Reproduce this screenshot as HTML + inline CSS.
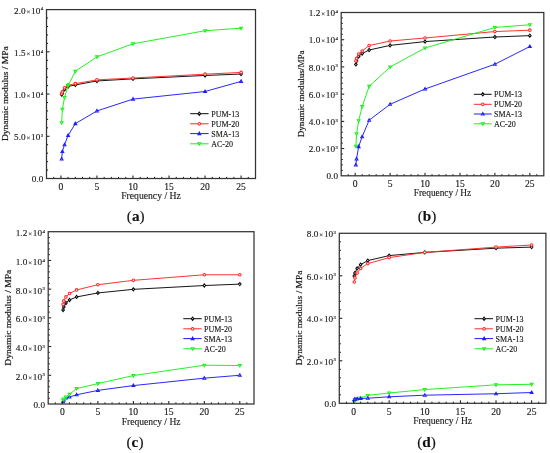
<!DOCTYPE html>
<html><head><meta charset="utf-8"><style>
html,body{margin:0;padding:0;background:#fff;}
svg{display:block;}
text{font-family:"Liberation Serif","Times New Roman",serif;fill:#1a1a1a;stroke:#1a1a1a;stroke-width:0.14px;}
.t{font-size:9.6px;}
.s{font-size:5.0px;}
.x{font-size:6.8px;fill:#444;stroke:#444;}
.yl{font-size:9.2px;}
.ti{font-size:9.7px;}
.lg{font-size:8.0px;}
.pl{font-size:14.5px;fill:#111;}
</style></head><body>
<svg width="550" height="453" viewBox="0 0 550 453">
<rect width="550" height="453" fill="#fff"/>
<polyline points="61.63,94.47 62.36,93.21 64.52,89.41 68.12,86.45 75.33,84.93 96.95,80.96 132.98,78.85 205.05,75.47 241.09,74.04" fill="none" stroke="#0a0a0a" stroke-width="0.95"/>
<path d="M61.63 92.87L62.93 94.47L61.63 96.07L60.33 94.47Z" fill="#fff" stroke="#0a0a0a" stroke-width="1.05"/>
<path d="M62.36 91.61L63.66 93.21L62.36 94.81L61.06 93.21Z" fill="#fff" stroke="#0a0a0a" stroke-width="1.05"/>
<path d="M64.52 87.81L65.82 89.41L64.52 91.01L63.22 89.41Z" fill="#fff" stroke="#0a0a0a" stroke-width="1.05"/>
<path d="M68.12 84.85L69.42 86.45L68.12 88.05L66.82 86.45Z" fill="#fff" stroke="#0a0a0a" stroke-width="1.05"/>
<path d="M75.33 83.33L76.63 84.93L75.33 86.53L74.03 84.93Z" fill="#fff" stroke="#0a0a0a" stroke-width="1.05"/>
<path d="M96.95 79.36L98.25 80.96L96.95 82.56L95.65 80.96Z" fill="#fff" stroke="#0a0a0a" stroke-width="1.05"/>
<path d="M132.98 77.25L134.28 78.85L132.98 80.45L131.68 78.85Z" fill="#fff" stroke="#0a0a0a" stroke-width="1.05"/>
<path d="M205.05 73.87L206.35 75.47L205.05 77.07L203.75 75.47Z" fill="#fff" stroke="#0a0a0a" stroke-width="1.05"/>
<path d="M241.09 72.44L242.39 74.04L241.09 75.64L239.79 74.04Z" fill="#fff" stroke="#0a0a0a" stroke-width="1.05"/>
<polyline points="61.63,93.63 62.36,91.94 64.52,87.72 68.12,85.18 75.33,83.66 96.95,79.86 132.98,78 205.05,74.2 241.09,72.43" fill="none" stroke="#ff2828" stroke-width="0.95"/>
<circle cx="61.63" cy="93.63" r="1.3" fill="#fff" stroke="#ff2828" stroke-width="1.05"/>
<circle cx="62.36" cy="91.94" r="1.3" fill="#fff" stroke="#ff2828" stroke-width="1.05"/>
<circle cx="64.52" cy="87.72" r="1.3" fill="#fff" stroke="#ff2828" stroke-width="1.05"/>
<circle cx="68.12" cy="85.18" r="1.3" fill="#fff" stroke="#ff2828" stroke-width="1.05"/>
<circle cx="75.33" cy="83.66" r="1.3" fill="#fff" stroke="#ff2828" stroke-width="1.05"/>
<circle cx="96.95" cy="79.86" r="1.3" fill="#fff" stroke="#ff2828" stroke-width="1.05"/>
<circle cx="132.98" cy="78" r="1.3" fill="#fff" stroke="#ff2828" stroke-width="1.05"/>
<circle cx="205.05" cy="74.2" r="1.3" fill="#fff" stroke="#ff2828" stroke-width="1.05"/>
<circle cx="241.09" cy="72.43" r="1.3" fill="#fff" stroke="#ff2828" stroke-width="1.05"/>
<polyline points="61.63,159.08 62.36,151.48 64.52,144.72 68.12,135.43 75.33,123.61 96.95,110.94 132.98,99.12 205.05,91.52 241.09,81.38" fill="none" stroke="#1c1cff" stroke-width="0.95"/>
<path d="M61.63 157.58L63.03 160.08L60.23 160.08Z" fill="#fff" stroke="#1c1cff" stroke-width="1.05"/>
<path d="M62.36 149.98L63.76 152.48L60.96 152.48Z" fill="#fff" stroke="#1c1cff" stroke-width="1.05"/>
<path d="M64.52 143.22L65.92 145.72L63.12 145.72Z" fill="#fff" stroke="#1c1cff" stroke-width="1.05"/>
<path d="M68.12 133.93L69.52 136.43L66.72 136.43Z" fill="#fff" stroke="#1c1cff" stroke-width="1.05"/>
<path d="M75.33 122.11L76.73 124.61L73.93 124.61Z" fill="#fff" stroke="#1c1cff" stroke-width="1.05"/>
<path d="M96.95 109.44L98.35 111.94L95.55 111.94Z" fill="#fff" stroke="#1c1cff" stroke-width="1.05"/>
<path d="M132.98 97.62L134.38 100.12L131.58 100.12Z" fill="#fff" stroke="#1c1cff" stroke-width="1.05"/>
<path d="M205.05 90.02L206.45 92.52L203.65 92.52Z" fill="#fff" stroke="#1c1cff" stroke-width="1.05"/>
<path d="M241.09 79.88L242.49 82.38L239.69 82.38Z" fill="#fff" stroke="#1c1cff" stroke-width="1.05"/>
<polyline points="61.63,122.76 62.36,109.25 64.52,97.43 68.12,85.61 75.33,71.25 96.95,56.89 132.98,43.8 205.05,30.71 241.09,28.18" fill="none" stroke="#18f018" stroke-width="0.95"/>
<path d="M61.63 124.26L63.03 121.76L60.23 121.76Z" fill="#fff" stroke="#18f018" stroke-width="1.05"/>
<path d="M62.36 110.75L63.76 108.25L60.96 108.25Z" fill="#fff" stroke="#18f018" stroke-width="1.05"/>
<path d="M64.52 98.93L65.92 96.43L63.12 96.43Z" fill="#fff" stroke="#18f018" stroke-width="1.05"/>
<path d="M68.12 87.11L69.52 84.61L66.72 84.61Z" fill="#fff" stroke="#18f018" stroke-width="1.05"/>
<path d="M75.33 72.75L76.73 70.25L73.93 70.25Z" fill="#fff" stroke="#18f018" stroke-width="1.05"/>
<path d="M96.95 58.39L98.35 55.89L95.55 55.89Z" fill="#fff" stroke="#18f018" stroke-width="1.05"/>
<path d="M132.98 45.3L134.38 42.8L131.58 42.8Z" fill="#fff" stroke="#18f018" stroke-width="1.05"/>
<path d="M205.05 32.21L206.45 29.71L203.65 29.71Z" fill="#fff" stroke="#18f018" stroke-width="1.05"/>
<path d="M241.09 29.68L242.49 27.18L239.69 27.18Z" fill="#fff" stroke="#18f018" stroke-width="1.05"/>
<path d="M53.71 178.5V176.9M60.91 178.5V175.5M68.12 178.5V176.9M75.33 178.5V176.9M82.53 178.5V176.9M89.74 178.5V176.9M96.95 178.5V175.5M104.16 178.5V176.9M111.36 178.5V176.9M118.57 178.5V176.9M125.78 178.5V176.9M132.98 178.5V175.5M140.19 178.5V176.9M147.4 178.5V176.9M154.6 178.5V176.9M161.81 178.5V176.9M169.02 178.5V175.5M176.22 178.5V176.9M183.43 178.5V176.9M190.64 178.5V176.9M197.84 178.5V176.9M205.05 178.5V175.5M212.26 178.5V176.9M219.47 178.5V176.9M226.67 178.5V176.9M233.88 178.5V176.9M241.09 178.5V175.5M248.29 178.5V176.9M46.5 170.06H48.1M46.5 161.61H48.1M46.5 153.16H48.1M46.5 144.72H48.1M46.5 136.28H49.5M46.5 127.83H48.1M46.5 119.38H48.1M46.5 110.94H48.1M46.5 102.5H48.1M46.5 94.05H49.5M46.5 85.61H48.1M46.5 77.16H48.1M46.5 68.72H48.1M46.5 60.27H48.1M46.5 51.83H49.5M46.5 43.38H48.1M46.5 34.94H48.1M46.5 26.49H48.1M46.5 18.04H48.1" stroke="#111" stroke-width="1" fill="none"/>
<rect x="46.5" y="9.6" width="209" height="168.9" fill="none" stroke="#333" stroke-width="1.25"/>
<text x="60.91" y="189.7" text-anchor="middle" class="t">0</text>
<text x="96.95" y="189.7" text-anchor="middle" class="t">5</text>
<text x="132.98" y="189.7" text-anchor="middle" class="t">10</text>
<text x="169.02" y="189.7" text-anchor="middle" class="t">15</text>
<text x="205.05" y="189.7" text-anchor="middle" class="t">20</text>
<text x="241.09" y="189.7" text-anchor="middle" class="t">25</text>
<text x="43.3" y="182.4" text-anchor="end" class="yl">0.0</text>
<text x="43.3" y="140.18" text-anchor="end" class="yl">5.0<tspan class="x" dx="1.0">×</tspan><tspan dx="0.75">10</tspan><tspan class="s" dx="0.5" dy="-3.2">3</tspan></text>
<text x="43.3" y="97.95" text-anchor="end" class="yl">1.0<tspan class="x" dx="1.0">×</tspan><tspan dx="0.75">10</tspan><tspan class="s" dx="0.5" dy="-3.2">4</tspan></text>
<text x="43.3" y="55.73" text-anchor="end" class="yl">1.5<tspan class="x" dx="1.0">×</tspan><tspan dx="0.75">10</tspan><tspan class="s" dx="0.5" dy="-3.2">4</tspan></text>
<text x="43.3" y="13.5" text-anchor="end" class="yl">2.0<tspan class="x" dx="1.0">×</tspan><tspan dx="0.75">10</tspan><tspan class="s" dx="0.5" dy="-3.2">4</tspan></text>
<text x="151" y="199.4" text-anchor="middle" font-size="9.7">Frequency / Hz</text>
<text transform="translate(8.4,93.65) rotate(-90) scale(1.112,1)" x="0" y="0" text-anchor="middle" font-size="8.5" style="stroke-width:0.2px">Dynamic modulus / MPa</text>
<line x1="190.2" y1="113.7" x2="208.6" y2="113.7" stroke="#0a0a0a" stroke-width="1"/>
<path d="M199.3 112.1L200.6 113.7L199.3 115.3L198 113.7Z" fill="#fff" stroke="#0a0a0a" stroke-width="1.05"/>
<text x="211.2" y="116.6" class="lg">PUM-13</text>
<line x1="190.2" y1="123.8" x2="208.6" y2="123.8" stroke="#ff2828" stroke-width="1"/>
<circle cx="199.3" cy="123.8" r="1.3" fill="#fff" stroke="#ff2828" stroke-width="1.05"/>
<text x="211.2" y="126.7" class="lg">PUM-20</text>
<line x1="190.2" y1="133.6" x2="208.6" y2="133.6" stroke="#1c1cff" stroke-width="1"/>
<path d="M199.3 132.1L200.7 134.6L197.9 134.6Z" fill="#fff" stroke="#1c1cff" stroke-width="1.05"/>
<text x="211.2" y="136.5" class="lg">SMA-13</text>
<line x1="190.2" y1="143.8" x2="208.6" y2="143.8" stroke="#18f018" stroke-width="1"/>
<path d="M199.3 145.3L200.7 142.8L197.9 142.8Z" fill="#fff" stroke="#18f018" stroke-width="1.05"/>
<text x="211.2" y="146.7" class="lg">AC-20</text>
<text transform="translate(135.7,221) scale(1.05,1)" text-anchor="middle" class="pl">(<tspan font-weight="bold">a</tspan>)</text>
<polyline points="355.87,64.4 356.57,61 358.67,56.4 362.16,53.6 369.14,50 390.1,45.39 425.03,41.59 494.9,37 529.83,35.63" fill="none" stroke="#0a0a0a" stroke-width="0.95"/>
<path d="M355.87 62.8L357.17 64.4L355.87 66L354.57 64.4Z" fill="#fff" stroke="#0a0a0a" stroke-width="1.05"/>
<path d="M356.57 59.4L357.87 61L356.57 62.6L355.27 61Z" fill="#fff" stroke="#0a0a0a" stroke-width="1.05"/>
<path d="M358.67 54.8L359.97 56.4L358.67 58L357.37 56.4Z" fill="#fff" stroke="#0a0a0a" stroke-width="1.05"/>
<path d="M362.16 52L363.46 53.6L362.16 55.2L360.86 53.6Z" fill="#fff" stroke="#0a0a0a" stroke-width="1.05"/>
<path d="M369.14 48.4L370.44 50L369.14 51.6L367.84 50Z" fill="#fff" stroke="#0a0a0a" stroke-width="1.05"/>
<path d="M390.1 43.79L391.4 45.39L390.1 46.99L388.8 45.39Z" fill="#fff" stroke="#0a0a0a" stroke-width="1.05"/>
<path d="M425.03 39.99L426.33 41.59L425.03 43.19L423.73 41.59Z" fill="#fff" stroke="#0a0a0a" stroke-width="1.05"/>
<path d="M494.9 35.4L496.2 37L494.9 38.59L493.6 37Z" fill="#fff" stroke="#0a0a0a" stroke-width="1.05"/>
<path d="M529.83 34.03L531.13 35.63L529.83 37.23L528.53 35.63Z" fill="#fff" stroke="#0a0a0a" stroke-width="1.05"/>
<polyline points="355.87,61 356.57,58.4 358.67,54.01 362.16,51 369.14,45.6 390.1,41 425.03,38 494.9,31.55 529.83,30.19" fill="none" stroke="#ff2828" stroke-width="0.95"/>
<circle cx="355.87" cy="61" r="1.3" fill="#fff" stroke="#ff2828" stroke-width="1.05"/>
<circle cx="356.57" cy="58.4" r="1.3" fill="#fff" stroke="#ff2828" stroke-width="1.05"/>
<circle cx="358.67" cy="54.01" r="1.3" fill="#fff" stroke="#ff2828" stroke-width="1.05"/>
<circle cx="362.16" cy="51" r="1.3" fill="#fff" stroke="#ff2828" stroke-width="1.05"/>
<circle cx="369.14" cy="45.6" r="1.3" fill="#fff" stroke="#ff2828" stroke-width="1.05"/>
<circle cx="390.1" cy="41" r="1.3" fill="#fff" stroke="#ff2828" stroke-width="1.05"/>
<circle cx="425.03" cy="38" r="1.3" fill="#fff" stroke="#ff2828" stroke-width="1.05"/>
<circle cx="494.9" cy="31.55" r="1.3" fill="#fff" stroke="#ff2828" stroke-width="1.05"/>
<circle cx="529.83" cy="30.19" r="1.3" fill="#fff" stroke="#ff2828" stroke-width="1.05"/>
<polyline points="355.87,146.27 356.57,133.75 358.67,120.8 362.16,106.49 369.14,86.39 390.1,67 425.03,48 494.9,27.47 529.83,24.75" fill="none" stroke="#18f018" stroke-width="0.95"/>
<path d="M355.87 147.77L357.27 145.27L354.47 145.27Z" fill="#fff" stroke="#18f018" stroke-width="1.05"/>
<path d="M356.57 135.25L357.97 132.75L355.17 132.75Z" fill="#fff" stroke="#18f018" stroke-width="1.05"/>
<path d="M358.67 122.3L360.07 119.8L357.27 119.8Z" fill="#fff" stroke="#18f018" stroke-width="1.05"/>
<path d="M362.16 107.99L363.56 105.49L360.76 105.49Z" fill="#fff" stroke="#18f018" stroke-width="1.05"/>
<path d="M369.14 87.89L370.54 85.39L367.74 85.39Z" fill="#fff" stroke="#18f018" stroke-width="1.05"/>
<path d="M390.1 68.5L391.5 66L388.7 66Z" fill="#fff" stroke="#18f018" stroke-width="1.05"/>
<path d="M425.03 49.5L426.43 47L423.63 47Z" fill="#fff" stroke="#18f018" stroke-width="1.05"/>
<path d="M494.9 28.97L496.3 26.47L493.5 26.47Z" fill="#fff" stroke="#18f018" stroke-width="1.05"/>
<path d="M529.83 26.25L531.23 23.75L528.43 23.75Z" fill="#fff" stroke="#18f018" stroke-width="1.05"/>
<polyline points="355.87,164.91 356.57,158.93 358.67,146.6 362.16,136.7 369.14,120.2 390.1,104.3 425.03,89.01 494.9,64.21 529.83,46.52" fill="none" stroke="#1c1cff" stroke-width="0.95"/>
<path d="M355.87 163.41L357.27 165.91L354.47 165.91Z" fill="#fff" stroke="#1c1cff" stroke-width="1.05"/>
<path d="M356.57 157.43L357.97 159.93L355.17 159.93Z" fill="#fff" stroke="#1c1cff" stroke-width="1.05"/>
<path d="M358.67 145.1L360.07 147.6L357.27 147.6Z" fill="#fff" stroke="#1c1cff" stroke-width="1.05"/>
<path d="M362.16 135.2L363.56 137.7L360.76 137.7Z" fill="#fff" stroke="#1c1cff" stroke-width="1.05"/>
<path d="M369.14 118.7L370.54 121.2L367.74 121.2Z" fill="#fff" stroke="#1c1cff" stroke-width="1.05"/>
<path d="M390.1 102.8L391.5 105.3L388.7 105.3Z" fill="#fff" stroke="#1c1cff" stroke-width="1.05"/>
<path d="M425.03 87.51L426.43 90.01L423.63 90.01Z" fill="#fff" stroke="#1c1cff" stroke-width="1.05"/>
<path d="M494.9 62.71L496.3 65.21L493.5 65.21Z" fill="#fff" stroke="#1c1cff" stroke-width="1.05"/>
<path d="M529.83 45.02L531.23 47.52L528.43 47.52Z" fill="#fff" stroke="#1c1cff" stroke-width="1.05"/>
<path d="M348.19 175.8V174.2M355.17 175.8V172.8M362.16 175.8V174.2M369.14 175.8V174.2M376.13 175.8V174.2M383.12 175.8V174.2M390.1 175.8V172.8M397.09 175.8V174.2M404.08 175.8V174.2M411.06 175.8V174.2M418.05 175.8V174.2M425.03 175.8V172.8M432.02 175.8V174.2M439.01 175.8V174.2M445.99 175.8V174.2M452.98 175.8V174.2M459.97 175.8V172.8M466.95 175.8V174.2M473.94 175.8V174.2M480.92 175.8V174.2M487.91 175.8V174.2M494.9 175.8V172.8M501.88 175.8V174.2M508.87 175.8V174.2M515.86 175.8V174.2M522.84 175.8V174.2M529.83 175.8V172.8M536.81 175.8V174.2M341.2 170.36H342.8M341.2 164.91H342.8M341.2 159.47H342.8M341.2 154.03H342.8M341.2 148.58H344.2M341.2 143.14H342.8M341.2 137.7H342.8M341.2 132.25H342.8M341.2 126.81H342.8M341.2 121.37H344.2M341.2 115.92H342.8M341.2 110.48H342.8M341.2 105.04H342.8M341.2 99.59H342.8M341.2 94.15H344.2M341.2 88.71H342.8M341.2 83.26H342.8M341.2 77.82H342.8M341.2 72.38H342.8M341.2 66.93H344.2M341.2 61.49H342.8M341.2 56.05H342.8M341.2 50.6H342.8M341.2 45.16H342.8M341.2 39.72H344.2M341.2 34.27H342.8M341.2 28.83H342.8M341.2 23.39H342.8M341.2 17.94H342.8" stroke="#111" stroke-width="1" fill="none"/>
<rect x="341.2" y="12.5" width="202.6" height="163.3" fill="none" stroke="#333" stroke-width="1.25"/>
<text x="355.17" y="187" text-anchor="middle" class="t">0</text>
<text x="390.1" y="187" text-anchor="middle" class="t">5</text>
<text x="425.03" y="187" text-anchor="middle" class="t">10</text>
<text x="459.97" y="187" text-anchor="middle" class="t">15</text>
<text x="494.9" y="187" text-anchor="middle" class="t">20</text>
<text x="529.83" y="187" text-anchor="middle" class="t">25</text>
<text x="338" y="179.4" text-anchor="end" class="yl">0.0</text>
<text x="338" y="152.18" text-anchor="end" class="yl">2.0<tspan class="x" dx="1.0">×</tspan><tspan dx="0.75">10</tspan><tspan class="s" dx="0.5" dy="-3.2">3</tspan></text>
<text x="338" y="124.97" text-anchor="end" class="yl">4.0<tspan class="x" dx="1.0">×</tspan><tspan dx="0.75">10</tspan><tspan class="s" dx="0.5" dy="-3.2">3</tspan></text>
<text x="338" y="97.75" text-anchor="end" class="yl">6.0<tspan class="x" dx="1.0">×</tspan><tspan dx="0.75">10</tspan><tspan class="s" dx="0.5" dy="-3.2">3</tspan></text>
<text x="338" y="70.53" text-anchor="end" class="yl">8.0<tspan class="x" dx="1.0">×</tspan><tspan dx="0.75">10</tspan><tspan class="s" dx="0.5" dy="-3.2">3</tspan></text>
<text x="338" y="43.32" text-anchor="end" class="yl">1.0<tspan class="x" dx="1.0">×</tspan><tspan dx="0.75">10</tspan><tspan class="s" dx="0.5" dy="-3.2">4</tspan></text>
<text x="338" y="16.1" text-anchor="end" class="yl">1.2<tspan class="x" dx="1.0">×</tspan><tspan dx="0.75">10</tspan><tspan class="s" dx="0.5" dy="-3.2">4</tspan></text>
<text x="442.5" y="195.6" text-anchor="middle" font-size="9.3">Frequency / Hz</text>
<text transform="translate(304.4,93.85) rotate(-90) scale(0.994,1)" x="0" y="0" text-anchor="middle" font-size="9.2" style="stroke-width:0.2px">Dynamic modulus/MPa</text>
<line x1="473.9" y1="94.3" x2="491.7" y2="94.3" stroke="#0a0a0a" stroke-width="1"/>
<path d="M482.8 92.7L484.1 94.3L482.8 95.9L481.5 94.3Z" fill="#fff" stroke="#0a0a0a" stroke-width="1.05"/>
<text x="494" y="97.2" class="lg">PUM-13</text>
<line x1="473.9" y1="104.3" x2="491.7" y2="104.3" stroke="#ff2828" stroke-width="1"/>
<circle cx="482.8" cy="104.3" r="1.3" fill="#fff" stroke="#ff2828" stroke-width="1.05"/>
<text x="494" y="107.2" class="lg">PUM-20</text>
<line x1="473.9" y1="114" x2="491.7" y2="114" stroke="#1c1cff" stroke-width="1"/>
<path d="M482.8 112.5L484.2 115L481.4 115Z" fill="#fff" stroke="#1c1cff" stroke-width="1.05"/>
<text x="494" y="116.9" class="lg">SMA-13</text>
<line x1="473.9" y1="123.8" x2="491.7" y2="123.8" stroke="#18f018" stroke-width="1"/>
<path d="M482.8 125.3L484.2 122.8L481.4 122.8Z" fill="#fff" stroke="#18f018" stroke-width="1.05"/>
<text x="494" y="126.7" class="lg">AC-20</text>
<text transform="translate(427,221) scale(1.05,1)" text-anchor="middle" class="pl">(<tspan font-weight="bold">b</tspan>)</text>
<polyline points="63.1,309.95 63.81,306.94 65.94,302.95 69.49,299.95 76.59,296.94 97.88,292.94 133.36,289.33 204.32,285.54 239.81,284.11" fill="none" stroke="#0a0a0a" stroke-width="0.95"/>
<path d="M63.1 308.35L64.4 309.95L63.1 311.55L61.8 309.95Z" fill="#fff" stroke="#0a0a0a" stroke-width="1.05"/>
<path d="M63.81 305.34L65.11 306.94L63.81 308.54L62.51 306.94Z" fill="#fff" stroke="#0a0a0a" stroke-width="1.05"/>
<path d="M65.94 301.35L67.24 302.95L65.94 304.55L64.64 302.95Z" fill="#fff" stroke="#0a0a0a" stroke-width="1.05"/>
<path d="M69.49 298.35L70.79 299.95L69.49 301.55L68.19 299.95Z" fill="#fff" stroke="#0a0a0a" stroke-width="1.05"/>
<path d="M76.59 295.34L77.89 296.94L76.59 298.54L75.29 296.94Z" fill="#fff" stroke="#0a0a0a" stroke-width="1.05"/>
<path d="M97.88 291.34L99.18 292.94L97.88 294.54L96.58 292.94Z" fill="#fff" stroke="#0a0a0a" stroke-width="1.05"/>
<path d="M133.36 287.73L134.66 289.33L133.36 290.93L132.06 289.33Z" fill="#fff" stroke="#0a0a0a" stroke-width="1.05"/>
<path d="M204.32 283.94L205.62 285.54L204.32 287.14L203.02 285.54Z" fill="#fff" stroke="#0a0a0a" stroke-width="1.05"/>
<path d="M239.81 282.51L241.11 284.11L239.81 285.71L238.51 284.11Z" fill="#fff" stroke="#0a0a0a" stroke-width="1.05"/>
<polyline points="63.1,304.34 63.81,300.94 65.94,296.94 69.49,293.54 76.59,289.94 97.88,284.73 133.36,280.33 204.32,274.77 239.81,274.77" fill="none" stroke="#ff2828" stroke-width="0.95"/>
<circle cx="63.1" cy="304.34" r="1.3" fill="#fff" stroke="#ff2828" stroke-width="1.05"/>
<circle cx="63.81" cy="300.94" r="1.3" fill="#fff" stroke="#ff2828" stroke-width="1.05"/>
<circle cx="65.94" cy="296.94" r="1.3" fill="#fff" stroke="#ff2828" stroke-width="1.05"/>
<circle cx="69.49" cy="293.54" r="1.3" fill="#fff" stroke="#ff2828" stroke-width="1.05"/>
<circle cx="76.59" cy="289.94" r="1.3" fill="#fff" stroke="#ff2828" stroke-width="1.05"/>
<circle cx="97.88" cy="284.73" r="1.3" fill="#fff" stroke="#ff2828" stroke-width="1.05"/>
<circle cx="133.36" cy="280.33" r="1.3" fill="#fff" stroke="#ff2828" stroke-width="1.05"/>
<circle cx="204.32" cy="274.77" r="1.3" fill="#fff" stroke="#ff2828" stroke-width="1.05"/>
<circle cx="239.81" cy="274.77" r="1.3" fill="#fff" stroke="#ff2828" stroke-width="1.05"/>
<polyline points="63.1,401.6 63.81,399.99 65.94,398 69.49,396.99 76.59,394.8 97.88,390.39 133.36,385.59 204.32,378.15 239.81,375.28" fill="none" stroke="#1c1cff" stroke-width="0.95"/>
<path d="M63.1 400.1L64.5 402.6L61.7 402.6Z" fill="#fff" stroke="#1c1cff" stroke-width="1.05"/>
<path d="M63.81 398.49L65.21 400.99L62.41 400.99Z" fill="#fff" stroke="#1c1cff" stroke-width="1.05"/>
<path d="M65.94 396.5L67.34 399L64.54 399Z" fill="#fff" stroke="#1c1cff" stroke-width="1.05"/>
<path d="M69.49 395.49L70.89 397.99L68.09 397.99Z" fill="#fff" stroke="#1c1cff" stroke-width="1.05"/>
<path d="M76.59 393.3L77.99 395.8L75.19 395.8Z" fill="#fff" stroke="#1c1cff" stroke-width="1.05"/>
<path d="M97.88 388.89L99.28 391.39L96.48 391.39Z" fill="#fff" stroke="#1c1cff" stroke-width="1.05"/>
<path d="M133.36 384.09L134.76 386.59L131.96 386.59Z" fill="#fff" stroke="#1c1cff" stroke-width="1.05"/>
<path d="M204.32 376.65L205.72 379.15L202.92 379.15Z" fill="#fff" stroke="#1c1cff" stroke-width="1.05"/>
<path d="M239.81 373.78L241.21 376.28L238.41 376.28Z" fill="#fff" stroke="#1c1cff" stroke-width="1.05"/>
<polyline points="63.1,399.99 63.81,399 65.94,396.99 69.49,394.39 76.59,388.59 97.88,383.58 133.36,375.58 204.32,365.23 239.81,365.52" fill="none" stroke="#18f018" stroke-width="0.95"/>
<path d="M63.1 401.49L64.5 398.99L61.7 398.99Z" fill="#fff" stroke="#18f018" stroke-width="1.05"/>
<path d="M63.81 400.5L65.21 398L62.41 398Z" fill="#fff" stroke="#18f018" stroke-width="1.05"/>
<path d="M65.94 398.49L67.34 395.99L64.54 395.99Z" fill="#fff" stroke="#18f018" stroke-width="1.05"/>
<path d="M69.49 395.89L70.89 393.39L68.09 393.39Z" fill="#fff" stroke="#18f018" stroke-width="1.05"/>
<path d="M76.59 390.09L77.99 387.59L75.19 387.59Z" fill="#fff" stroke="#18f018" stroke-width="1.05"/>
<path d="M97.88 385.08L99.28 382.58L96.48 382.58Z" fill="#fff" stroke="#18f018" stroke-width="1.05"/>
<path d="M133.36 377.08L134.76 374.58L131.96 374.58Z" fill="#fff" stroke="#18f018" stroke-width="1.05"/>
<path d="M204.32 366.73L205.72 364.23L202.92 364.23Z" fill="#fff" stroke="#18f018" stroke-width="1.05"/>
<path d="M239.81 367.02L241.21 364.52L238.41 364.52Z" fill="#fff" stroke="#18f018" stroke-width="1.05"/>
<path d="M55.3 404V402.4M62.39 404V401M69.49 404V402.4M76.59 404V402.4M83.68 404V402.4M90.78 404V402.4M97.88 404V401M104.97 404V402.4M112.07 404V402.4M119.17 404V402.4M126.26 404V402.4M133.36 404V401M140.46 404V402.4M147.55 404V402.4M154.65 404V402.4M161.74 404V402.4M168.84 404V401M175.94 404V402.4M183.03 404V402.4M190.13 404V402.4M197.23 404V402.4M204.32 404V401M211.42 404V402.4M218.52 404V402.4M225.61 404V402.4M232.71 404V402.4M239.81 404V401M246.9 404V402.4M48.2 398.26H49.8M48.2 392.51H49.8M48.2 386.77H49.8M48.2 381.03H49.8M48.2 375.28H51.2M48.2 369.54H49.8M48.2 363.8H49.8M48.2 358.05H49.8M48.2 352.31H49.8M48.2 346.57H51.2M48.2 340.82H49.8M48.2 335.08H49.8M48.2 329.34H49.8M48.2 323.59H49.8M48.2 317.85H51.2M48.2 312.11H49.8M48.2 306.36H49.8M48.2 300.62H49.8M48.2 294.88H49.8M48.2 289.13H51.2M48.2 283.39H49.8M48.2 277.65H49.8M48.2 271.9H49.8M48.2 266.16H49.8M48.2 260.42H51.2M48.2 254.67H49.8M48.2 248.93H49.8M48.2 243.19H49.8M48.2 237.44H49.8" stroke="#111" stroke-width="1" fill="none"/>
<rect x="48.2" y="231.7" width="205.8" height="172.3" fill="none" stroke="#333" stroke-width="1.25"/>
<text x="62.39" y="415.2" text-anchor="middle" class="t">0</text>
<text x="97.88" y="415.2" text-anchor="middle" class="t">5</text>
<text x="133.36" y="415.2" text-anchor="middle" class="t">10</text>
<text x="168.84" y="415.2" text-anchor="middle" class="t">15</text>
<text x="204.32" y="415.2" text-anchor="middle" class="t">20</text>
<text x="239.81" y="415.2" text-anchor="middle" class="t">25</text>
<text x="45" y="408.4" text-anchor="end" class="yl">0.0</text>
<text x="45" y="379.68" text-anchor="end" class="yl">2.0<tspan class="x" dx="1.0">×</tspan><tspan dx="0.75">10</tspan><tspan class="s" dx="0.5" dy="-3.2">3</tspan></text>
<text x="45" y="350.97" text-anchor="end" class="yl">4.0<tspan class="x" dx="1.0">×</tspan><tspan dx="0.75">10</tspan><tspan class="s" dx="0.5" dy="-3.2">3</tspan></text>
<text x="45" y="322.25" text-anchor="end" class="yl">6.0<tspan class="x" dx="1.0">×</tspan><tspan dx="0.75">10</tspan><tspan class="s" dx="0.5" dy="-3.2">3</tspan></text>
<text x="45" y="293.53" text-anchor="end" class="yl">8.0<tspan class="x" dx="1.0">×</tspan><tspan dx="0.75">10</tspan><tspan class="s" dx="0.5" dy="-3.2">3</tspan></text>
<text x="45" y="264.82" text-anchor="end" class="yl">1.0<tspan class="x" dx="1.0">×</tspan><tspan dx="0.75">10</tspan><tspan class="s" dx="0.5" dy="-3.2">4</tspan></text>
<text x="45" y="236.1" text-anchor="end" class="yl">1.2<tspan class="x" dx="1.0">×</tspan><tspan dx="0.75">10</tspan><tspan class="s" dx="0.5" dy="-3.2">4</tspan></text>
<text x="151.1" y="425" text-anchor="middle" font-size="9.55">Frequency / Hz</text>
<text transform="translate(10.8,317.7) rotate(-90) scale(1.091,1)" x="0" y="0" text-anchor="middle" font-size="8.8" style="stroke-width:0.2px">Dynamic modulus / MPa</text>
<line x1="183.3" y1="318.7" x2="201.7" y2="318.7" stroke="#0a0a0a" stroke-width="1"/>
<path d="M192.6 317.1L193.9 318.7L192.6 320.3L191.3 318.7Z" fill="#fff" stroke="#0a0a0a" stroke-width="1.05"/>
<text x="204" y="321.6" class="lg">PUM-13</text>
<line x1="183.3" y1="328.8" x2="201.7" y2="328.8" stroke="#ff2828" stroke-width="1"/>
<circle cx="192.6" cy="328.8" r="1.3" fill="#fff" stroke="#ff2828" stroke-width="1.05"/>
<text x="204" y="331.7" class="lg">PUM-20</text>
<line x1="183.3" y1="338.6" x2="201.7" y2="338.6" stroke="#1c1cff" stroke-width="1"/>
<path d="M192.6 337.1L194 339.6L191.2 339.6Z" fill="#fff" stroke="#1c1cff" stroke-width="1.05"/>
<text x="204" y="341.5" class="lg">SMA-13</text>
<line x1="183.3" y1="348.8" x2="201.7" y2="348.8" stroke="#18f018" stroke-width="1"/>
<path d="M192.6 350.3L194 347.8L191.2 347.8Z" fill="#fff" stroke="#18f018" stroke-width="1.05"/>
<text x="204" y="351.7" class="lg">AC-20</text>
<text transform="translate(135,446.6) scale(1.05,1)" text-anchor="middle" class="pl">(<tspan font-weight="bold">c</tspan>)</text>
<polyline points="354.26,275.99 354.97,273 357.11,268.4 360.67,264.6 367.8,260.61 389.17,255.59 424.79,252.4 496.03,248.18 531.65,247.11" fill="none" stroke="#0a0a0a" stroke-width="0.95"/>
<path d="M354.26 274.39L355.56 275.99L354.26 277.59L352.96 275.99Z" fill="#fff" stroke="#0a0a0a" stroke-width="1.05"/>
<path d="M354.97 271.39L356.27 273L354.97 274.6L353.67 273Z" fill="#fff" stroke="#0a0a0a" stroke-width="1.05"/>
<path d="M357.11 266.8L358.41 268.4L357.11 270L355.81 268.4Z" fill="#fff" stroke="#0a0a0a" stroke-width="1.05"/>
<path d="M360.67 263L361.97 264.6L360.67 266.2L359.37 264.6Z" fill="#fff" stroke="#0a0a0a" stroke-width="1.05"/>
<path d="M367.8 259.01L369.1 260.61L367.8 262.21L366.5 260.61Z" fill="#fff" stroke="#0a0a0a" stroke-width="1.05"/>
<path d="M389.17 253.99L390.47 255.59L389.17 257.19L387.87 255.59Z" fill="#fff" stroke="#0a0a0a" stroke-width="1.05"/>
<path d="M424.79 250.8L426.09 252.4L424.79 254L423.49 252.4Z" fill="#fff" stroke="#0a0a0a" stroke-width="1.05"/>
<path d="M496.03 246.57L497.33 248.18L496.03 249.78L494.73 248.18Z" fill="#fff" stroke="#0a0a0a" stroke-width="1.05"/>
<path d="M531.65 245.51L532.95 247.11L531.65 248.71L530.35 247.11Z" fill="#fff" stroke="#0a0a0a" stroke-width="1.05"/>
<polyline points="354.26,282 354.97,278.01 357.11,273 360.67,268.4 367.8,263.6 389.17,257.61 424.79,252.4 496.03,247.11 531.65,244.99" fill="none" stroke="#ff2828" stroke-width="0.95"/>
<circle cx="354.26" cy="282" r="1.3" fill="#fff" stroke="#ff2828" stroke-width="1.05"/>
<circle cx="354.97" cy="278.01" r="1.3" fill="#fff" stroke="#ff2828" stroke-width="1.05"/>
<circle cx="357.11" cy="273" r="1.3" fill="#fff" stroke="#ff2828" stroke-width="1.05"/>
<circle cx="360.67" cy="268.4" r="1.3" fill="#fff" stroke="#ff2828" stroke-width="1.05"/>
<circle cx="367.8" cy="263.6" r="1.3" fill="#fff" stroke="#ff2828" stroke-width="1.05"/>
<circle cx="389.17" cy="257.61" r="1.3" fill="#fff" stroke="#ff2828" stroke-width="1.05"/>
<circle cx="424.79" cy="252.4" r="1.3" fill="#fff" stroke="#ff2828" stroke-width="1.05"/>
<circle cx="496.03" cy="247.11" r="1.3" fill="#fff" stroke="#ff2828" stroke-width="1.05"/>
<circle cx="531.65" cy="244.99" r="1.3" fill="#fff" stroke="#ff2828" stroke-width="1.05"/>
<polyline points="354.26,401.49 354.97,400.11 357.11,399.05 360.67,397.99 367.8,395.4 389.17,392.99 424.79,389.59 496.03,384.81 531.65,384.3" fill="none" stroke="#18f018" stroke-width="0.95"/>
<path d="M354.26 402.99L355.66 400.49L352.86 400.49Z" fill="#fff" stroke="#18f018" stroke-width="1.05"/>
<path d="M354.97 401.61L356.37 399.11L353.57 399.11Z" fill="#fff" stroke="#18f018" stroke-width="1.05"/>
<path d="M357.11 400.55L358.51 398.05L355.71 398.05Z" fill="#fff" stroke="#18f018" stroke-width="1.05"/>
<path d="M360.67 399.49L362.07 396.99L359.27 396.99Z" fill="#fff" stroke="#18f018" stroke-width="1.05"/>
<path d="M367.8 396.9L369.2 394.4L366.4 394.4Z" fill="#fff" stroke="#18f018" stroke-width="1.05"/>
<path d="M389.17 394.49L390.57 391.99L387.77 391.99Z" fill="#fff" stroke="#18f018" stroke-width="1.05"/>
<path d="M424.79 391.09L426.19 388.59L423.39 388.59Z" fill="#fff" stroke="#18f018" stroke-width="1.05"/>
<path d="M496.03 386.31L497.43 383.81L494.63 383.81Z" fill="#fff" stroke="#18f018" stroke-width="1.05"/>
<path d="M531.65 385.8L533.05 383.3L530.25 383.3Z" fill="#fff" stroke="#18f018" stroke-width="1.05"/>
<polyline points="354.26,399.69 354.97,399.16 357.11,398.73 360.67,398.52 367.8,398.2 389.17,396.8 424.79,395.2 496.03,393.74 531.65,392.5" fill="none" stroke="#1c1cff" stroke-width="0.95"/>
<path d="M354.26 398.19L355.66 400.69L352.86 400.69Z" fill="#fff" stroke="#1c1cff" stroke-width="1.05"/>
<path d="M354.97 397.66L356.37 400.16L353.57 400.16Z" fill="#fff" stroke="#1c1cff" stroke-width="1.05"/>
<path d="M357.11 397.23L358.51 399.73L355.71 399.73Z" fill="#fff" stroke="#1c1cff" stroke-width="1.05"/>
<path d="M360.67 397.02L362.07 399.52L359.27 399.52Z" fill="#fff" stroke="#1c1cff" stroke-width="1.05"/>
<path d="M367.8 396.7L369.2 399.2L366.4 399.2Z" fill="#fff" stroke="#1c1cff" stroke-width="1.05"/>
<path d="M389.17 395.3L390.57 397.8L387.77 397.8Z" fill="#fff" stroke="#1c1cff" stroke-width="1.05"/>
<path d="M424.79 393.7L426.19 396.2L423.39 396.2Z" fill="#fff" stroke="#1c1cff" stroke-width="1.05"/>
<path d="M496.03 392.24L497.43 394.74L494.63 394.74Z" fill="#fff" stroke="#1c1cff" stroke-width="1.05"/>
<path d="M531.65 391L533.05 393.5L530.25 393.5Z" fill="#fff" stroke="#1c1cff" stroke-width="1.05"/>
<path d="M346.42 403.3V401.7M353.55 403.3V400.3M360.67 403.3V401.7M367.8 403.3V401.7M374.92 403.3V401.7M382.04 403.3V401.7M389.17 403.3V400.3M396.29 403.3V401.7M403.42 403.3V401.7M410.54 403.3V401.7M417.67 403.3V401.7M424.79 403.3V400.3M431.91 403.3V401.7M439.04 403.3V401.7M446.16 403.3V401.7M453.29 403.3V401.7M460.41 403.3V400.3M467.53 403.3V401.7M474.66 403.3V401.7M481.78 403.3V401.7M488.91 403.3V401.7M496.03 403.3V400.3M503.16 403.3V401.7M510.28 403.3V401.7M517.4 403.3V401.7M524.53 403.3V401.7M531.65 403.3V400.3M538.78 403.3V401.7M339.3 394.8H340.9M339.3 386.3H340.9M339.3 377.8H340.9M339.3 369.3H340.9M339.3 360.8H342.3M339.3 352.3H340.9M339.3 343.8H340.9M339.3 335.3H340.9M339.3 326.8H340.9M339.3 318.3H342.3M339.3 309.8H340.9M339.3 301.3H340.9M339.3 292.8H340.9M339.3 284.3H340.9M339.3 275.8H342.3M339.3 267.3H340.9M339.3 258.8H340.9M339.3 250.3H340.9M339.3 241.8H340.9" stroke="#111" stroke-width="1" fill="none"/>
<rect x="339.3" y="233.3" width="206.6" height="170" fill="none" stroke="#333" stroke-width="1.25"/>
<text x="353.55" y="414.5" text-anchor="middle" class="t">0</text>
<text x="389.17" y="414.5" text-anchor="middle" class="t">5</text>
<text x="424.79" y="414.5" text-anchor="middle" class="t">10</text>
<text x="460.41" y="414.5" text-anchor="middle" class="t">15</text>
<text x="496.03" y="414.5" text-anchor="middle" class="t">20</text>
<text x="531.65" y="414.5" text-anchor="middle" class="t">25</text>
<text x="336.1" y="407.1" text-anchor="end" class="yl">0.0</text>
<text x="336.1" y="364.6" text-anchor="end" class="yl">2.0<tspan class="x" dx="1.0">×</tspan><tspan dx="0.75">10</tspan><tspan class="s" dx="0.5" dy="-3.2">3</tspan></text>
<text x="336.1" y="322.1" text-anchor="end" class="yl">4.0<tspan class="x" dx="1.0">×</tspan><tspan dx="0.75">10</tspan><tspan class="s" dx="0.5" dy="-3.2">3</tspan></text>
<text x="336.1" y="279.6" text-anchor="end" class="yl">6.0<tspan class="x" dx="1.0">×</tspan><tspan dx="0.75">10</tspan><tspan class="s" dx="0.5" dy="-3.2">3</tspan></text>
<text x="336.1" y="237.1" text-anchor="end" class="yl">8.0<tspan class="x" dx="1.0">×</tspan><tspan dx="0.75">10</tspan><tspan class="s" dx="0.5" dy="-3.2">3</tspan></text>
<text x="442.6" y="424" text-anchor="middle" font-size="9.55">Frequency / Hz</text>
<text transform="translate(301.7,317.9) rotate(-90) scale(1.075,1)" x="0" y="0" text-anchor="middle" font-size="8.8" style="stroke-width:0.2px">Dynamic modulus / MPa</text>
<line x1="474.5" y1="318.7" x2="493" y2="318.7" stroke="#0a0a0a" stroke-width="1"/>
<path d="M484.1 317.1L485.4 318.7L484.1 320.3L482.8 318.7Z" fill="#fff" stroke="#0a0a0a" stroke-width="1.05"/>
<text x="495.5" y="321.6" class="lg">PUM-13</text>
<line x1="474.5" y1="328.8" x2="493" y2="328.8" stroke="#ff2828" stroke-width="1"/>
<circle cx="484.1" cy="328.8" r="1.3" fill="#fff" stroke="#ff2828" stroke-width="1.05"/>
<text x="495.5" y="331.7" class="lg">PUM-20</text>
<line x1="474.5" y1="338.6" x2="493" y2="338.6" stroke="#1c1cff" stroke-width="1"/>
<path d="M484.1 337.1L485.5 339.6L482.7 339.6Z" fill="#fff" stroke="#1c1cff" stroke-width="1.05"/>
<text x="495.5" y="341.5" class="lg">SMA-13</text>
<line x1="474.5" y1="348.8" x2="493" y2="348.8" stroke="#18f018" stroke-width="1"/>
<path d="M484.1 350.3L485.5 347.8L482.7 347.8Z" fill="#fff" stroke="#18f018" stroke-width="1.05"/>
<text x="495.5" y="351.7" class="lg">AC-20</text>
<text transform="translate(426.5,446.5) scale(1.05,1)" text-anchor="middle" class="pl">(<tspan font-weight="bold">d</tspan>)</text>
</svg>
</body></html>
